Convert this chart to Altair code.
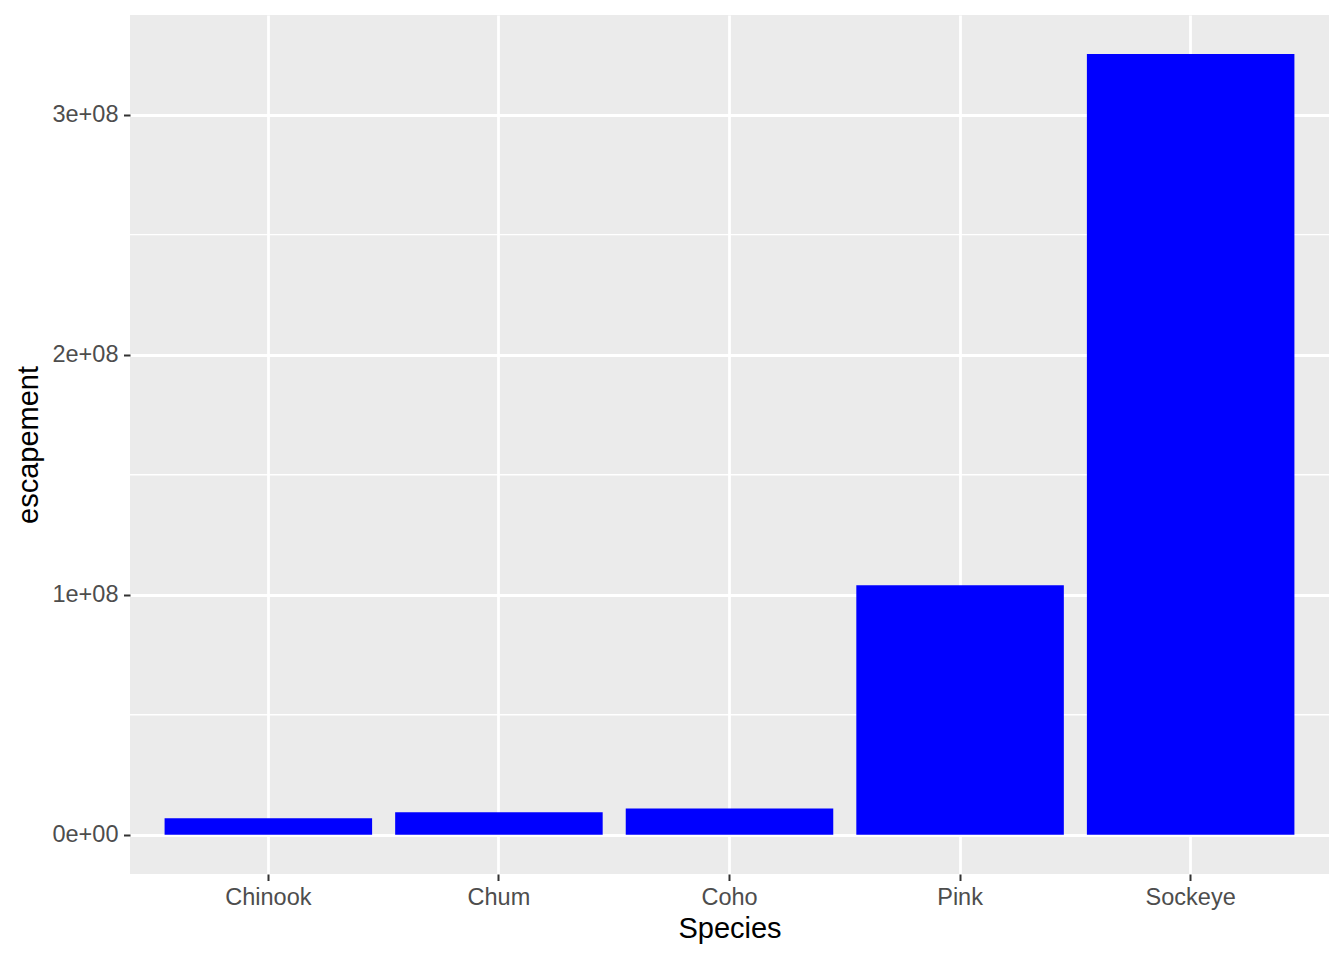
import altair as alt
import pandas as pd

species = ["Chinook", "Chum", "Coho", "Pink", "Sockeye"]
escapement = [6.9e6, 9.4e6, 11.0e6, 1.04e8, 3.252e8]
major_ticks = [0, 1e8, 2e8, 3e8]
minor_ticks = [0.5e8, 1.5e8, 2.5e8]

df = pd.DataFrame({"Species": species, "escapement": escapement})
minor_df = pd.DataFrame({"v": minor_ticks})

FONT = "Liberation Sans"

y_scale = alt.Scale(domain=[-0.163e8, 3.4146e8], nice=False, zero=False)
x_scale = alt.Scale(paddingInner=0.1, paddingOuter=0.15)

minor = alt.Chart(minor_df).mark_rule(color="white", strokeWidth=1.4).encode(
    y=alt.Y("v:Q", scale=y_scale)
)

bars = alt.Chart(df).mark_bar(color="#0000FF").encode(
    x=alt.X(
        "Species:N",
        sort=species,
        scale=x_scale,
        axis=alt.Axis(
            title="Species",
            labelAngle=0,
            bandPosition=0.5,
            grid=True,
            gridColor="white",
            gridWidth=2.8,
            domain=False,
            tickColor="#333333",
            tickWidth=2,
            tickSize=6.5,
            labelColor="#4D4D4D",
            labelFontSize=23.5,
            labelFont=FONT,
            labelPadding=5,
            titleFont=FONT,
            titleFontSize=29,
            titleFontWeight="normal",
            titleColor="black",
            titlePadding=5,
        ),
    ),
    y=alt.Y(
        "escapement:Q",
        scale=y_scale,
        axis=alt.Axis(
            title="escapement",
            values=major_ticks,
            labelExpr="datum.value == 0 ? '0e+00' : format(datum.value / 1e8, '.0f') + 'e+08'",
            grid=True,
            gridColor="white",
            gridWidth=2.8,
            domain=False,
            tickColor="#333333",
            tickWidth=2,
            tickSize=6.5,
            labelColor="#4D4D4D",
            labelFontSize=23.5,
            labelFont=FONT,
            labelPadding=5.5,
            titleFont=FONT,
            titleFontSize=29,
            titleFontWeight="normal",
            titleColor="black",
            titlePadding=8,
        ),
    ),
)

chart = (
    alt.layer(minor, bars)
    .properties(
        width=1199,
        height=859,
        padding={"left": 122, "top": 7, "right": 7, "bottom": 70},
        autosize=alt.AutoSizeParams(type="none"),
        background="white",
    )
    .configure_view(fill="#EBEBEB", stroke=None)
)

chart.save("out.html", embed_options={"renderer": "svg", "actions": False})
